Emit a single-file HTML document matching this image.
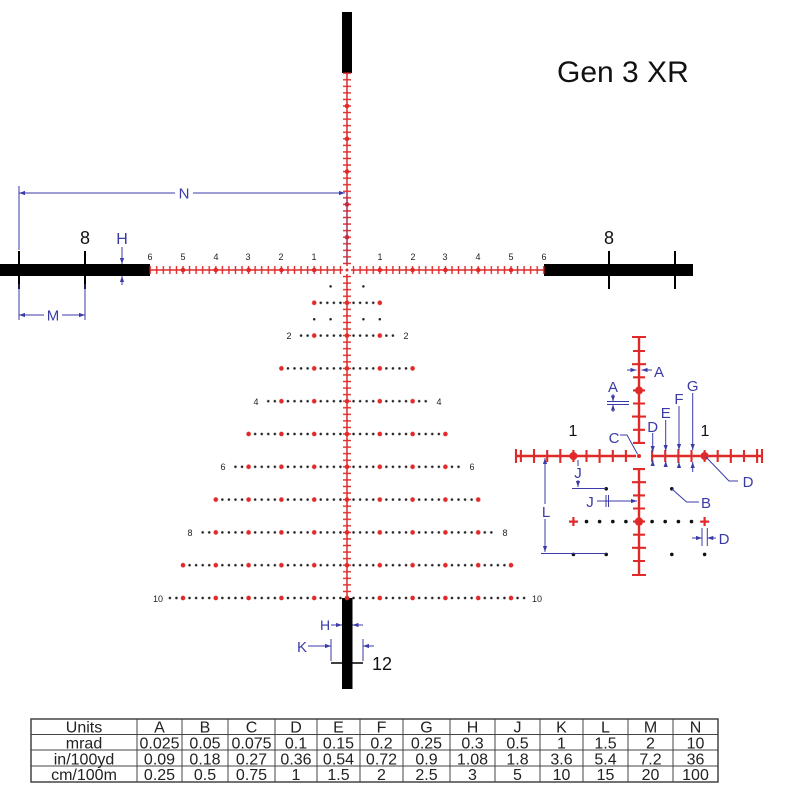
<!DOCTYPE html>
<html><head><meta charset="utf-8"><style>
html,body{margin:0;padding:0;background:#fff;}
svg{display:block;}
text{font-family:"Liberation Sans",sans-serif;}
</style></head><body>
<svg width="800" height="800" viewBox="0 0 800 800" xmlns="http://www.w3.org/2000/svg">
<defs>
<pattern id="tH" patternUnits="userSpaceOnUse" x="343.72" y="262" width="6.56" height="16"><line x1="3.28" y1="4" x2="3.28" y2="12" stroke="#e02a2a" stroke-width="1.4"/></pattern>
<pattern id="tV" patternUnits="userSpaceOnUse" x="339" y="266.72" width="16" height="6.56"><line x1="4" y1="3.28" x2="12" y2="3.28" stroke="#e02a2a" stroke-width="1.4"/></pattern>
<pattern id="bD" patternUnits="userSpaceOnUse" x="343.72" y="266.72" width="6.56" height="6.56"><circle cx="3.28" cy="3.28" r="1.25" fill="#222"/></pattern>
<pattern id="rD" patternUnits="userSpaceOnUse" x="330.6" y="253.6" width="32.8" height="32.8"><circle cx="16.4" cy="16.4" r="2.3" fill="#e02a2a"/></pattern>
<marker id="ar" viewBox="0 0 10 10" refX="10" refY="5" markerWidth="6" markerHeight="6" orient="auto-start-reverse"><path d="M0,1.5 L10,5 L0,8.5 z" fill="#3b3ba8"/></marker>
</defs>

<!-- title -->
<text x="557" y="82" font-size="30" fill="#111">Gen 3 XR</text>

<!-- bars -->
<rect x="342" y="12" width="10" height="61" fill="#000"/>
<rect x="342" y="598" width="10.5" height="91" fill="#000"/>
<rect x="0" y="264" width="150" height="12" fill="#000"/>
<rect x="544" y="264" width="149" height="12" fill="#000"/>
<g stroke="#000" stroke-width="2">
<line x1="19" y1="251" x2="19" y2="289"/><line x1="85" y1="251" x2="85" y2="289"/>
<line x1="609" y1="251" x2="609" y2="289"/><line x1="675" y1="251" x2="675" y2="289"/>
</g>
<line x1="331" y1="663" x2="363" y2="663" stroke="#000" stroke-width="1.5"/>
<text x="85" y="244" font-size="18" text-anchor="middle" fill="#111">8</text>
<text x="609" y="244" font-size="18" text-anchor="middle" fill="#111">8</text>
<text x="372" y="670" font-size="18" fill="#111">12</text>

<!-- main red crosshair -->
<g stroke="#e02a2a" stroke-width="1.5">
<line x1="150" y1="270" x2="343" y2="270"/><line x1="351" y1="270" x2="544" y2="270"/>
<line x1="347" y1="73" x2="347" y2="266"/><line x1="347" y1="274" x2="347" y2="598"/>
</g>
<rect x="148" y="262" width="196" height="16" fill="url(#tH)"/>
<rect x="350" y="262" width="196" height="16" fill="url(#tH)"/>
<rect x="339" y="72" width="16" height="195" fill="url(#tV)"/>
<rect x="339" y="273" width="16" height="324" fill="url(#tV)"/>
<rect x="175" y="265" width="169" height="10" fill="url(#rD)"/>
<rect x="350" y="265" width="169" height="10" fill="url(#rD)"/>
<rect x="342" y="95" width="10" height="170" fill="url(#rD)"/>
<circle cx="347" cy="270" r="1.5" fill="#e02a2a"/>
<line x1="347" y1="192" x2="347" y2="264" stroke="#3b3ba8" stroke-width="1" opacity="0.55"/>

<!-- horizontal numbers -->
<g font-size="9" fill="#222" text-anchor="middle">
<text x="150" y="260">6</text><text x="183" y="260">5</text><text x="216" y="260">4</text><text x="248" y="260">3</text><text x="281" y="260">2</text><text x="314" y="260">1</text>
<text x="380" y="260">1</text><text x="413" y="260">2</text><text x="445" y="260">3</text><text x="478" y="260">4</text><text x="511" y="260">5</text><text x="544" y="260">6</text>
</g>

<!-- dot rows -->
<g fill="#222">
<circle cx="330.6" cy="286.4" r="1.25"/><circle cx="363.4" cy="286.4" r="1.25"/>
<circle cx="314.2" cy="319.2" r="1.25"/><circle cx="330.6" cy="319.2" r="1.25"/><circle cx="363.4" cy="319.2" r="1.25"/><circle cx="379.8" cy="319.2" r="1.25"/>
</g>
<rect x="311" y="299.8" width="72" height="6" fill="url(#bD)"/>
<rect x="298" y="332.6" width="98" height="6" fill="url(#bD)"/>
<rect x="278" y="365.4" width="138" height="6" fill="url(#bD)"/>
<rect x="265" y="398.2" width="164" height="6" fill="url(#bD)"/>
<rect x="245" y="431" width="204" height="6" fill="url(#bD)"/>
<rect x="232" y="463.8" width="230" height="6" fill="url(#bD)"/>
<rect x="212" y="496.6" width="270" height="6" fill="url(#bD)"/>
<rect x="199" y="529.4" width="296" height="6" fill="url(#bD)"/>
<rect x="179.5" y="562.2" width="335" height="6" fill="url(#bD)"/>
<rect x="166.5" y="595" width="361" height="6" fill="url(#bD)"/>

<rect x="309.2" y="298.8" width="75.6" height="8" fill="url(#rD)"/>
<rect x="309.2" y="331.6" width="75.6" height="8" fill="url(#rD)"/>
<rect x="276.4" y="364.4" width="141.2" height="8" fill="url(#rD)"/>
<rect x="276.4" y="397.2" width="141.2" height="8" fill="url(#rD)"/>
<rect x="243.6" y="430" width="206.8" height="8" fill="url(#rD)"/>
<rect x="243.6" y="462.8" width="206.8" height="8" fill="url(#rD)"/>
<rect x="210.8" y="495.6" width="272.4" height="8" fill="url(#rD)"/>
<rect x="210.8" y="528.4" width="272.4" height="8" fill="url(#rD)"/>
<rect x="178" y="561.2" width="338" height="8" fill="url(#rD)"/>
<rect x="178" y="594" width="338" height="8" fill="url(#rD)"/>

<g font-size="9" fill="#222" text-anchor="middle">
<text x="289" y="339">2</text><text x="406" y="339">2</text>
<text x="256" y="405">4</text><text x="439" y="405">4</text>
<text x="223" y="470">6</text><text x="472" y="470">6</text>
<text x="190" y="536">8</text><text x="505" y="536">8</text>
<text x="158" y="602">10</text><text x="537" y="602">10</text>
</g>

<!-- main annotations -->
<g stroke="#3b3ba8" stroke-width="1" fill="none">
<line x1="19" y1="193" x2="345" y2="193" marker-start="url(#ar)" marker-end="url(#ar)"/>
<line x1="19" y1="186" x2="19" y2="250"/><line x1="19" y1="284" x2="19" y2="320"/>
<line x1="85" y1="284" x2="85" y2="320"/>
<line x1="19" y1="315" x2="85" y2="315" marker-start="url(#ar)" marker-end="url(#ar)"/>
<line x1="122" y1="247" x2="122" y2="264" marker-end="url(#ar)"/>
<line x1="122" y1="285" x2="122" y2="276" marker-end="url(#ar)"/>
<line x1="331" y1="625" x2="342" y2="625" marker-end="url(#ar)"/>
<line x1="363" y1="625" x2="352.5" y2="625" marker-end="url(#ar)"/>
<line x1="308" y1="646" x2="331" y2="646" marker-end="url(#ar)"/>
<line x1="374" y1="646" x2="363" y2="646" marker-end="url(#ar)"/>
<line x1="331" y1="639" x2="331" y2="661"/>
<line x1="363" y1="639" x2="363" y2="661"/>
</g>
<rect x="175" y="185" width="18" height="16" fill="#fff"/>
<rect x="44" y="308" width="18" height="15" fill="#fff"/>
<g fill="#3b3ba8" text-anchor="middle">
<text x="184" y="198.5" font-size="15">N</text>
<text x="53" y="320.5" font-size="15">M</text>
<text x="122" y="244" font-size="16">H</text>
<text x="325" y="630" font-size="14">H</text>
<text x="302" y="652" font-size="15">K</text>
</g>

<!-- inset -->
<line x1="545" y1="456" x2="632" y2="456" stroke="#3b3ba8" stroke-width="1" opacity="0.5"/>
<g stroke="#e02a2a" stroke-width="2.4">
<line x1="515" y1="456" x2="636" y2="456"/>
<line x1="652" y1="456" x2="763" y2="456"/>
<line x1="639" y1="336" x2="639" y2="443"/>
<line x1="639" y1="469" x2="639" y2="576"/>
</g>
<path stroke="#e02a2a" stroke-width="2.1" fill="none" d="M516 449v14M520.9 450v12M534 449v14M547.2 450v12M560.3 449v14M573.4 450v12M586.5 450v12M599.6 449v14M612.8 450v12M625.9 450v12M652.1 450v12M665.2 450v12M678.4 449v14M691.5 450v12M704.6 450v12M717.7 450v12M730.8 449v14M744 450v12M757.1 449v14M762 449v14
M632 337h14M633 351h12M632 364.2h14M633 377.3h12M633 390.4h12M633 403.5h12M632 416.6h14M633 429.8h12M633 442.9h12
M633 469.1h12M632 482.2h14M633 495.4h12M633 508.5h12M633 521.6h12M633 534.7h12M632 547.8h14M633 561h12M632 575h14"/>
<g fill="#e02a2a">
<circle cx="573.4" cy="456" r="4"/><circle cx="704.6" cy="456" r="4"/>
<circle cx="639" cy="390.4" r="4"/><circle cx="639" cy="521.6" r="4.2"/>
<circle cx="639" cy="456" r="2"/>
</g>
<path stroke="#e02a2a" stroke-width="2.2" d="M569 521.6h9M573.4 517v9M700.2 521.6h9M704.6 517v9"/>
<g fill="#111">
<circle cx="586.5" cy="521.6" r="1.8"/><circle cx="599.6" cy="521.6" r="1.8"/><circle cx="612.8" cy="521.6" r="1.8"/><circle cx="625.9" cy="521.6" r="1.8"/>
<circle cx="652.1" cy="521.6" r="1.8"/><circle cx="665.2" cy="521.6" r="1.8"/><circle cx="678.4" cy="521.6" r="1.8"/><circle cx="691.5" cy="521.6" r="1.8"/>
<circle cx="606.2" cy="488.8" r="1.8"/><circle cx="671.8" cy="488.8" r="1.8"/>
<circle cx="573.4" cy="554.4" r="1.8"/><circle cx="606.2" cy="554.4" r="1.8"/><circle cx="671.8" cy="554.4" r="1.8"/><circle cx="704.6" cy="554.4" r="1.8"/>
</g>
<g stroke="#3b3ba8" stroke-width="1" fill="none">
<line x1="627" y1="370" x2="636.5" y2="370" marker-end="url(#ar)"/>
<line x1="652" y1="370" x2="641.5" y2="370" marker-end="url(#ar)"/>
<line x1="613" y1="394" x2="613" y2="401.5" marker-end="url(#ar)"/>
<line x1="613" y1="412" x2="613" y2="404.5" marker-end="url(#ar)"/>
<line x1="607" y1="401.5" x2="629" y2="401.5"/><line x1="607" y1="404.5" x2="629" y2="404.5"/>
<line x1="692.7" y1="393" x2="692.7" y2="450" marker-end="url(#ar)"/><line x1="692.7" y1="472" x2="692.7" y2="462" marker-end="url(#ar)"/>
<line x1="679" y1="406" x2="679" y2="450" marker-end="url(#ar)"/><line x1="679" y1="468" x2="679" y2="462" marker-end="url(#ar)"/>
<line x1="665.7" y1="420" x2="665.7" y2="451" marker-end="url(#ar)"/><line x1="665.7" y1="466" x2="665.7" y2="461" marker-end="url(#ar)"/>
<line x1="652.7" y1="433" x2="652.7" y2="452" marker-end="url(#ar)"/><line x1="652.7" y1="465" x2="652.7" y2="460" marker-end="url(#ar)"/>
<polyline points="620,435 627,435 637.5,454"/>
<polyline points="706,457 729,481 738,481"/>
<polyline points="672,489 686.5,502 699,502"/>
<line x1="578" y1="460" x2="578" y2="487" marker-end="url(#ar)"/>
<line x1="572" y1="488.5" x2="606" y2="488.5"/>
<line x1="597" y1="501" x2="637" y2="501" marker-end="url(#ar)"/>
<line x1="606" y1="495" x2="606" y2="507"/><line x1="608.5" y1="495" x2="608.5" y2="507"/>
<line x1="545" y1="505" x2="545" y2="458" marker-end="url(#ar)"/>
<line x1="545" y1="505" x2="545" y2="552" marker-end="url(#ar)"/>
<line x1="541" y1="553.5" x2="606" y2="553.5"/>
<line x1="702" y1="528" x2="702" y2="546"/><line x1="707.3" y1="528" x2="707.3" y2="546"/>
<line x1="692" y1="538" x2="702" y2="538" marker-end="url(#ar)"/>
<line x1="716" y1="538" x2="707.3" y2="538" marker-end="url(#ar)"/>
</g>
<rect x="572" y="466" width="12" height="14" fill="#fff"/>
<rect x="540" y="504" width="11" height="15" fill="#fff"/>
<g fill="#3b3ba8" font-size="15" text-anchor="middle">
<text x="659" y="377">A</text>
<text x="613" y="392">A</text>
<text x="692.7" y="391">G</text>
<text x="679" y="404">F</text>
<text x="665.7" y="418">E</text>
<text x="652.7" y="432">D</text>
<text x="614" y="443">C</text>
<text x="748" y="487">D</text>
<text x="706" y="508">B</text>
<text x="578" y="478">J</text>
<text x="590" y="507">J</text>
<text x="546" y="517">L</text>
<text x="724" y="544">D</text>
</g>
<g fill="#111" font-size="16" text-anchor="middle">
<text x="573" y="436">1</text><text x="705" y="436">1</text>
</g>

<!-- table -->
<g stroke="#444" fill="none">
<rect x="31" y="719" width="687" height="63" stroke-width="1.5"/>
<g stroke-width="1">
<line x1="31" y1="734.5" x2="718" y2="734.5"/>
<line x1="31" y1="750" x2="718" y2="750"/>
<line x1="31" y1="766" x2="718" y2="766"/>
<line x1="137" y1="719" x2="137" y2="782"/>
<line x1="182" y1="719" x2="182" y2="782"/>
<line x1="228" y1="719" x2="228" y2="782"/>
<line x1="275" y1="719" x2="275" y2="782"/>
<line x1="317" y1="719" x2="317" y2="782"/>
<line x1="360" y1="719" x2="360" y2="782"/>
<line x1="403" y1="719" x2="403" y2="782"/>
<line x1="450" y1="719" x2="450" y2="782"/>
<line x1="495" y1="719" x2="495" y2="782"/>
<line x1="540" y1="719" x2="540" y2="782"/>
<line x1="583" y1="719" x2="583" y2="782"/>
<line x1="628" y1="719" x2="628" y2="782"/>
<line x1="673" y1="719" x2="673" y2="782"/>
</g>
</g>
<g font-size="16" fill="#222" text-anchor="middle">
<text x="84" y="732.5">Units</text><text x="159.5" y="732.5">A</text><text x="205" y="732.5">B</text><text x="251.5" y="732.5">C</text><text x="296" y="732.5">D</text><text x="338.5" y="732.5">E</text><text x="381.5" y="732.5">F</text><text x="426.5" y="732.5">G</text><text x="472.5" y="732.5">H</text><text x="517.5" y="732.5">J</text><text x="561.5" y="732.5">K</text><text x="605.5" y="732.5">L</text><text x="650.5" y="732.5">M</text><text x="695.5" y="732.5">N</text>
<text x="84" y="748.5">mrad</text><text x="159.5" y="748.5">0.025</text><text x="205" y="748.5">0.05</text><text x="251.5" y="748.5">0.075</text><text x="296" y="748.5">0.1</text><text x="338.5" y="748.5">0.15</text><text x="381.5" y="748.5">0.2</text><text x="426.5" y="748.5">0.25</text><text x="472.5" y="748.5">0.3</text><text x="517.5" y="748.5">0.5</text><text x="561.5" y="748.5">1</text><text x="605.5" y="748.5">1.5</text><text x="650.5" y="748.5">2</text><text x="695.5" y="748.5">10</text>
<text x="84" y="764.5">in/100yd</text><text x="159.5" y="764.5">0.09</text><text x="205" y="764.5">0.18</text><text x="251.5" y="764.5">0.27</text><text x="296" y="764.5">0.36</text><text x="338.5" y="764.5">0.54</text><text x="381.5" y="764.5">0.72</text><text x="426.5" y="764.5">0.9</text><text x="472.5" y="764.5">1.08</text><text x="517.5" y="764.5">1.8</text><text x="561.5" y="764.5">3.6</text><text x="605.5" y="764.5">5.4</text><text x="650.5" y="764.5">7.2</text><text x="695.5" y="764.5">36</text>
<text x="84" y="780">cm/100m</text><text x="159.5" y="780">0.25</text><text x="205" y="780">0.5</text><text x="251.5" y="780">0.75</text><text x="296" y="780">1</text><text x="338.5" y="780">1.5</text><text x="381.5" y="780">2</text><text x="426.5" y="780">2.5</text><text x="472.5" y="780">3</text><text x="517.5" y="780">5</text><text x="561.5" y="780">10</text><text x="605.5" y="780">15</text><text x="650.5" y="780">20</text><text x="695.5" y="780">100</text>
</g>
</svg>
</body></html>
